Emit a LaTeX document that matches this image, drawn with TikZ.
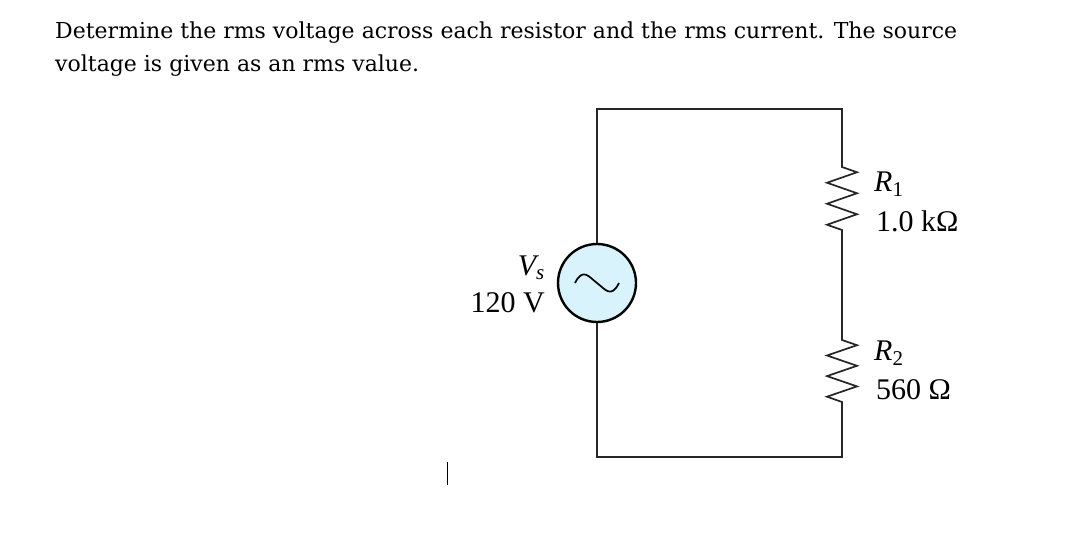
\documentclass[tikz,border=0pt]{standalone}
\usepackage{fontspec}
\setmainfont{Liberation Serif}
\newfontfamily\qfont{DejaVu Serif}
\begin{document}
\begin{tikzpicture}[x=1pt,y=-1pt,
  wire/.style={line width=1.7pt, black!85},
  lbl/.style={font=\fontsize{30}{32}\selectfont, inner sep=0pt},
  q/.style={font=\qfont\fontsize{22}{33}\selectfont, inner sep=0pt, align=left, anchor=north west}]
\useasboundingbox (0,0) rectangle (1072,538);
\node[q] (qtext) at (55,22) {Determine the rms voltage across each resistor and the rms current. The source\\voltage is given as an rms value.};
\coordinate (tl) at (597,109); \coordinate (tr) at (842,109);
\coordinate (bl) at (597,457); \coordinate (br) at (842,457);
\node[circle, draw, line width=2.4pt, fill=cyan!15, minimum size=78pt, inner sep=0pt] (vs) at (597,283) {};
\draw[line width=1.7pt] ([xshift=-22pt]vs.center) .. controls ++(8,-16) and ++(-8,-6) .. (vs.center) .. controls ++(8,6) and ++(-8,16) .. ([xshift=22pt]vs.center);
\coordinate (r1a) at (842,167); \coordinate (r1b) at (842,230);
\coordinate (r2a) at (842,340); \coordinate (r2b) at (842,402);
\draw[wire] (vs.north) -- (tl) -- (tr) -- (r1a)
  -- ++(15,5.25) -- ++(-30,10.5) -- ++(30,10.5) -- ++(-30,10.5) -- ++(30,10.5) -- ++(-30,10.5) -- (r1b)
  -- (r2a)
  -- ++(15,5.2) -- ++(-30,10.3) -- ++(30,10.3) -- ++(-30,10.3) -- ++(30,10.3) -- ++(-30,10.3) -- (r2b)
  -- (br) -- (bl) -- (vs.south);
\node[lbl, anchor=west] (r1) at (874,184) {\textit{R}\textsubscript{1}};
\node[lbl, anchor=west] (r1v) at (876,221) {1.0 kΩ};
\node[lbl, anchor=west] (r2) at (874,353) {\textit{R}\textsubscript{2}};
\node[lbl, anchor=west] (r2v) at (876,390) {560 Ω};
\node[lbl, anchor=east] (vsl) at (545,268) {\textit{V\textsubscript{s}}};
\node[lbl, anchor=east] (vsv) at (545,303) {120 V};
\draw[line width=1pt] (447,462) -- (447,485);
\end{tikzpicture}
\end{document}
